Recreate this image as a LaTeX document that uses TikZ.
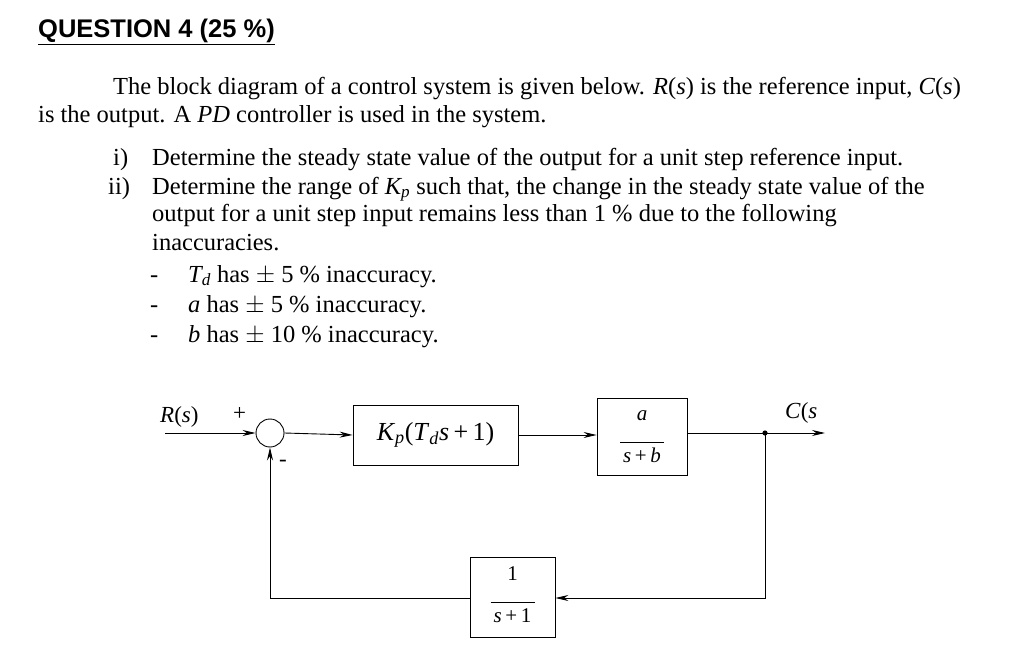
\documentclass[tikz,border=0pt]{standalone}
\usepackage{fontspec}
\setmainfont{Liberation Serif}
\newfontfamily\hsans{Liberation Sans}
\usetikzlibrary{arrows.meta}
\newcommand{\myfrac}[2]{\begin{tabular}{@{}c@{}}#1\\[-2pt]\rule{44pt}{0.6pt}\\[-4pt]#2\end{tabular}}
\begin{document}
\begin{tikzpicture}[x=1pt,y=-1pt,
  txt/.style={anchor=base west,inner sep=0pt,font=\fontsize{24.5}{28}\selectfont},
  dtxt/.style={anchor=base west,inner sep=0pt,font=\fontsize{23}{26}\selectfont},
  blk/.style={draw,line width=0.8pt,inner sep=0pt},
  ln/.style={line width=0.9pt},
  arr/.style={ln,-{Stealth[length=13pt,width=6pt]}}]
\useasboundingbox (0,0) rectangle (1023,658);
\node[anchor=base west,inner sep=0pt,font=\hsans\bfseries\fontsize{25.5}{28}\selectfont] (title) at (38,38) {\underline{QUESTION 4 (25 \%)}};
\node[txt] (l1) at (113,95) {The block diagram of a control system is given below. \textit{R}(\textit{s}) is the reference input, \textit{C}(\textit{s})};
\node[txt] (l2) at (38,123) {is the output. A \textit{PD} controller is used in the system.};
\node[txt] (n1) at (113,165) {i)};
\node[txt] (l3) at (152,165) {Determine the steady state value of the output for a unit step reference input.};
\node[txt] (n2) at (108,194) {ii)};
\node[txt] (l4) at (152,194) {Determine the range of \textit{K\textsubscript{p}} such that, the change in the steady state value of the};
\node[txt] (l5) at (152,222) {output for a unit step input remains less than 1 \% due to the following};
\node[txt] (l6) at (152,250) {inaccuracies.};
\node[txt] (d1) at (150,282) {-};
\node[txt] (l7) at (188,282) {\textit{T\textsubscript{d}} has $\pm$ 5 \% inaccuracy.};
\node[txt] (d2) at (150,312) {-};
\node[txt] (l8) at (188,312) {\textit{a} has $\pm$ 5 \% inaccuracy.};
\node[txt] (d3) at (150,342) {-};
\node[txt] (l9) at (188,342) {\textit{b} has $\pm$ 10 \% inaccuracy.};
% diagram
\node[dtxt] (R) at (160,422) {\textit{R}(\textit{s})};
\node[dtxt] (plus) at (233,420) {+};
\node[dtxt] (minus) at (279,466) {-};
\coordinate (rin) at (165,433);
\node[draw,circle,ln,minimum size=28pt,inner sep=0pt] (sum) at (270,433) {};
\node[blk,minimum width=165pt,minimum height=60pt,font=\fontsize{26}{30}\selectfont] (g1) at (435.5,435) {\textit{K}\textsubscript{\textit{p}}(\textit{T}\textsubscript{\textit{d}}\textit{s}\,+\,1)};
\node[blk,minimum width=90pt,minimum height=77pt,font=\fontsize{21}{24}\selectfont] (g2) at (642,436.5) {\myfrac{\textit{a}}{\textit{s}\,+\,\textit{b}}};
\node[blk,minimum width=85pt,minimum height=80pt,font=\fontsize{21}{24}\selectfont] (h) at (512.5,597) {\myfrac{1}{\textit{s}\,+\,1}};
\node[dtxt] (C) at (785,418) {\textit{C}(\textit{s}};
\coordinate (cout) at (825,433);
\coordinate (br) at (765,433);
\coordinate (fb1) at (765,598);
\coordinate (fb2) at (270,598);
\draw[arr] (rin) -- (sum.west);
\draw[arr] (sum.east) -- (g1.west);
\draw[arr] (g1.east) -- (g2.west |- g1.east);
\draw[arr] (g2.east |- br) -- (cout);
\fill (br) circle (2.6pt);
\draw[arr] (br) -- (fb1) -- (h.east |- fb1);
\draw[arr] (h.west |- fb2) -- (fb2) -- (sum.south);
\end{tikzpicture}
\end{document}
